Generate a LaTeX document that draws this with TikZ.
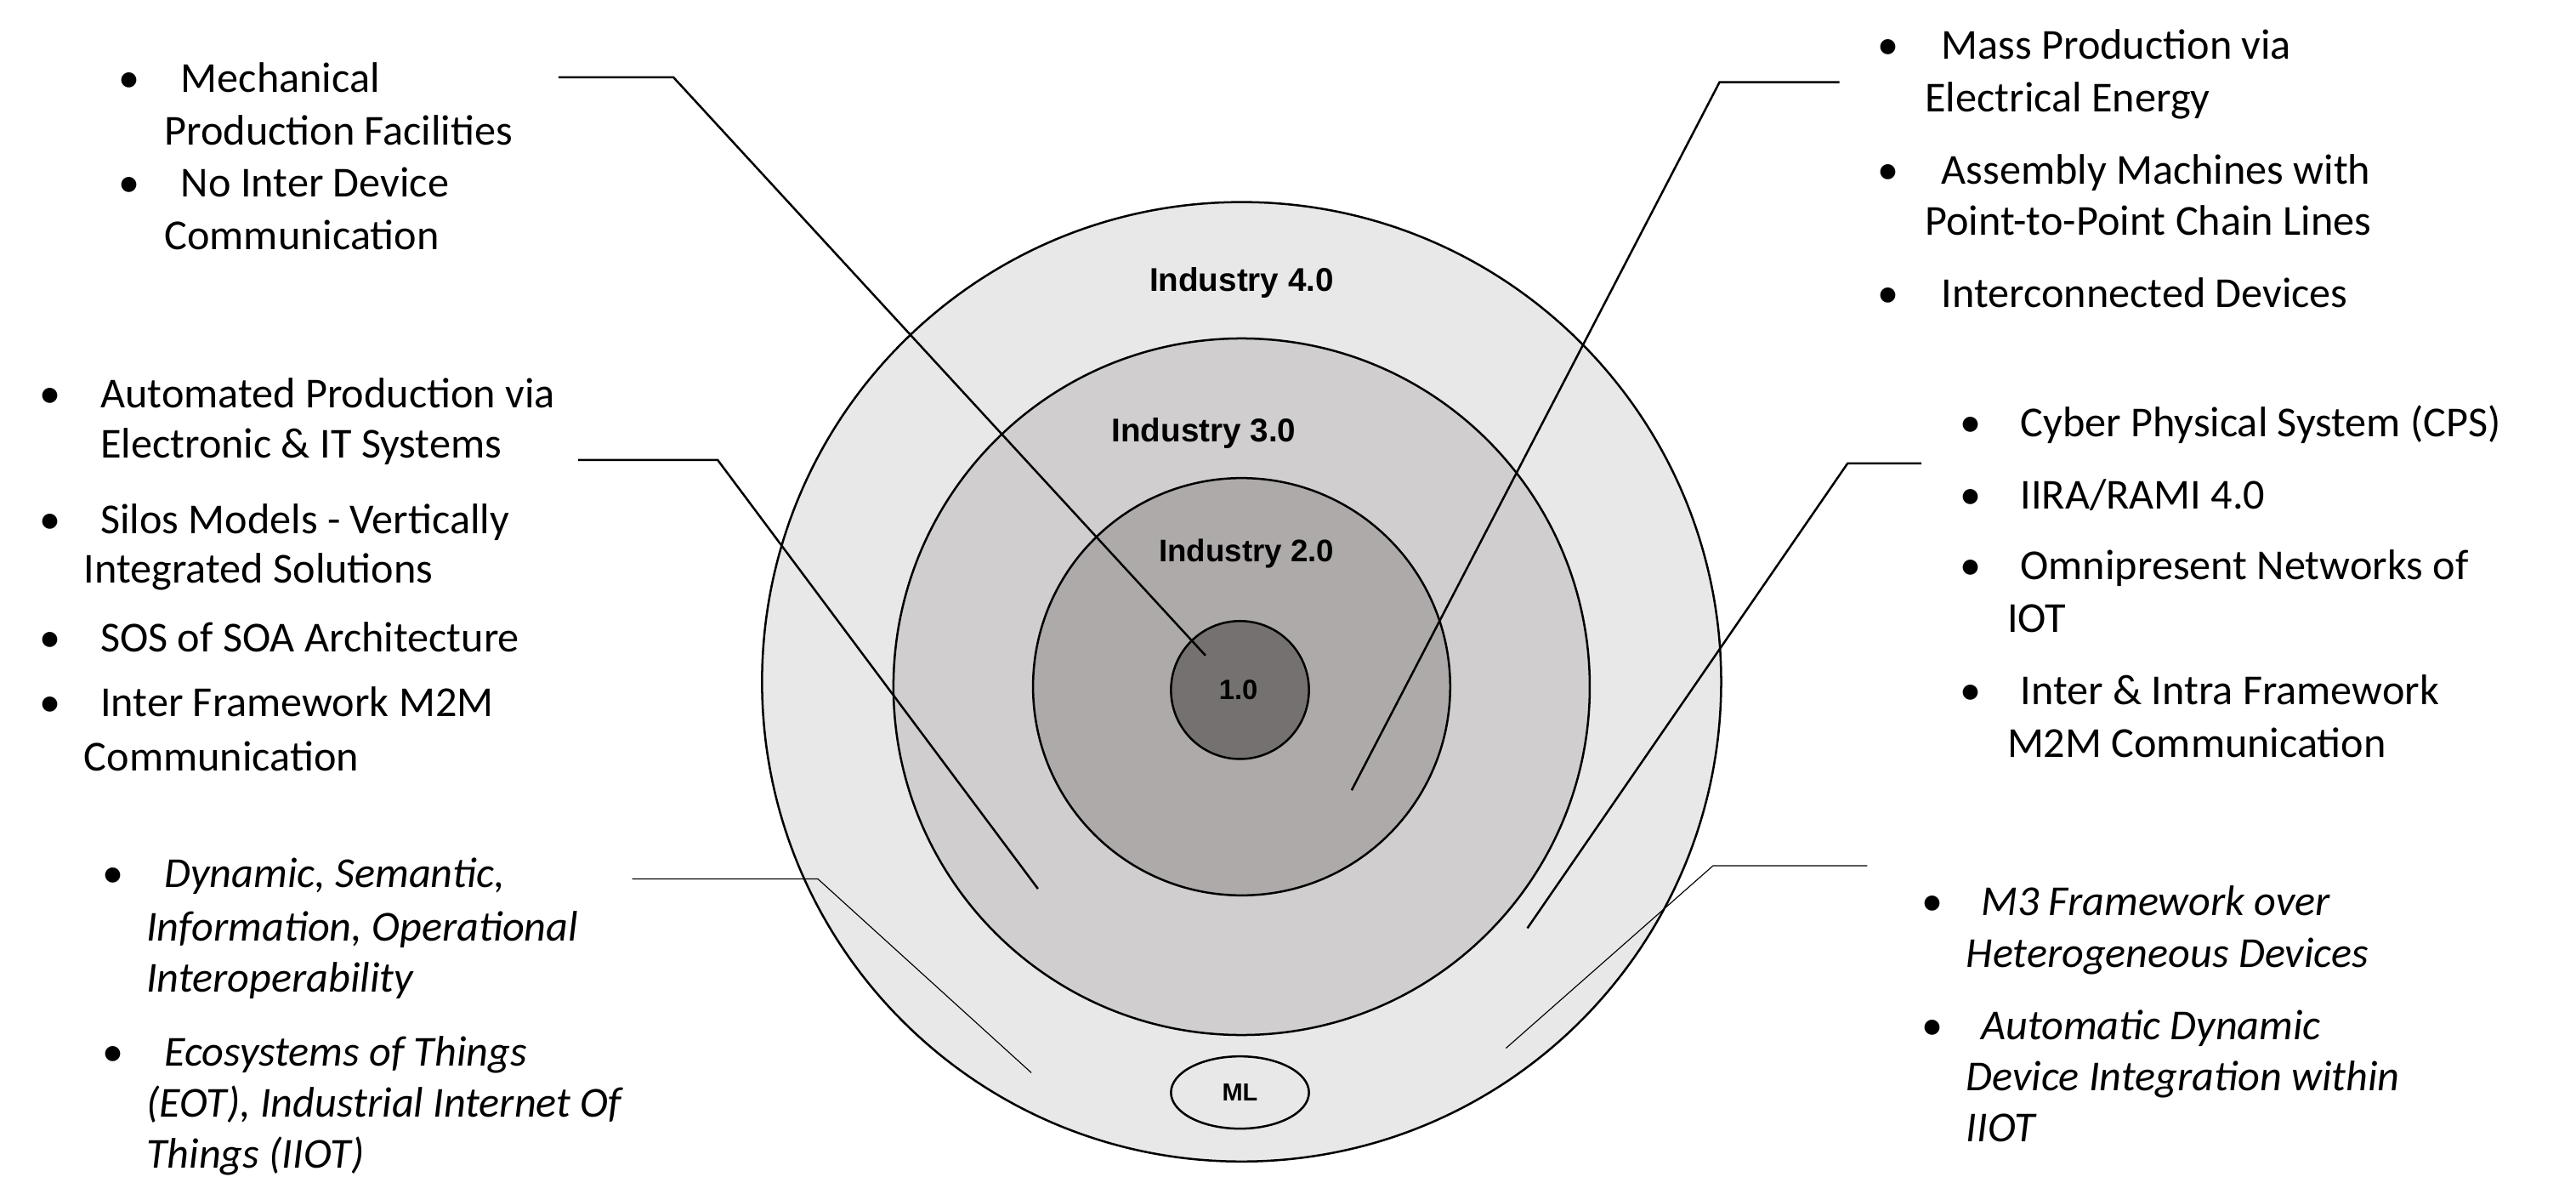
\documentclass[tikz,border=0pt]{standalone}
\usepackage{fontspec}
\usetikzlibrary{shapes.geometric}
\setmainfont{Carlito}
\newfontfamily\arialb{Liberation Sans}
\tikzset{
  ln/.style={anchor=base west, inner sep=0pt, font=\fontsize{26}{30}\selectfont},
  lni/.style={ln, font=\fontsize{26}{30}\selectfont\itshape},
  ring/.style={draw=black, line width=1.3pt, circle, inner sep=0pt},
  lbl/.style={font=\arialb\bfseries\fontsize{20}{24}\selectfont, inner sep=0pt},
  lead/.style={draw=black, line width=1.3pt},
  leadthin/.style={draw=black, line width=0.6pt}
}
\newcommand{\Ln}[5][ln]{\node[#1] (#2) at (#3,#4+9) {#5};}
\begin{document}
\begin{tikzpicture}[x=1pt,y=-1pt]
\useasboundingbox (0,0) rectangle (1568.5,726.7);
% circles
\node[ring, fill={rgb,255:red,232;green,232;blue,232}, minimum size=584] (c4) at (756,415) {};
\node[ring, fill={rgb,255:red,208;green,206;blue,206}, minimum size=424] (c3) at (756,418) {};
\node[ring, fill={rgb,255:red,174;green,170;blue,170}, minimum size=254] (c2) at (756,418) {};
\node[ring, fill={rgb,255:red,118;green,113;blue,113}, minimum size=84] (c1) at (755,420) {};
\node[draw=black, line width=1.3pt, ellipse, minimum width=84, minimum height=44, inner sep=0pt] (ml) at (755,665) {};
\node[lbl] (t4) at (756,172) {Industry 4.0};
\node[lbl] (t3) at (733,264) {Industry 3.0};
\node[lbl, font=\arialb\bfseries\fontsize{19}{22}\selectfont] (t2) at (759,337) {Industry 2.0};
\node[lbl, font=\arialb\bfseries\fontsize{17}{20}\selectfont] (t1) at (754,420) {1.0};
\node[lbl, font=\arialb\bfseries\fontsize{15}{18}\selectfont] (tml) at (755,665) {ML};
% leader coordinates
\coordinate (a1) at (340,47); \coordinate (a2) at (410,47); \coordinate (a3) at (734,399);
\coordinate (b1) at (1120,50); \coordinate (b2) at (1047,50); \coordinate (b3) at (823,481);
\coordinate (d1) at (352,280); \coordinate (d2) at (437,280); \coordinate (d3) at (632,541);
\coordinate (e1) at (1170,282); \coordinate (e2) at (1125,282); \coordinate (e3) at (930,565);
\coordinate (f1) at (385,535); \coordinate (f2) at (498,535); \coordinate (f3) at (628,653);
\coordinate (g1) at (1137,527); \coordinate (g2) at (1043,527); \coordinate (g3) at (917,638);
\draw[lead] (a1) -- (a2) -- (a3);
\draw[lead] (b1) -- (b2) -- (b3);
\draw[lead] (d1) -- (d2) -- (d3);
\draw[lead] (e1) -- (e2) -- (e3);
\draw[leadthin] (f1) -- (f2) -- (f3);
\draw[leadthin] (g1) -- (g2) -- (g3);
% top-left
\Ln{tlb1}{72}{47}{•}\Ln{tl1}{110}{47}{Mechanical}
\Ln{tl2}{100}{79}{Production Facilities}
\Ln{tlb2}{72}{111}{•}\Ln{tl3}{110}{111}{No Inter Device}
\Ln{tl4}{100}{143}{Communication}
% top-right
\Ln{trb1}{1143}{27}{•}\Ln{tr1}{1182}{27}{Mass Production via}
\Ln{tr2}{1172}{59}{Electrical Energy}
\Ln{trb2}{1143}{103}{•}\Ln{tr3}{1182}{103}{Assembly Machines with}
\Ln{tr4}{1172}{134}{Point-to-Point Chain Lines}
\Ln{trb3}{1143}{178}{•}\Ln{tr5}{1182}{178}{Interconnected Devices}
% middle-left
\Ln{mlb1}{24}{239}{•}\Ln{ml1}{61}{239}{Automated Production via}
\Ln{ml2}{61}{270}{Electronic \& IT Systems}
\Ln{mlb2}{24}{316}{•}\Ln{ml3}{61}{316}{Silos Models - Vertically}
\Ln{ml4}{51}{346}{Integrated Solutions}
\Ln{mlb3}{24}{388}{•}\Ln{ml5}{61}{388}{SOS of SOA Architecture}
\Ln{mlb4}{24}{427}{•}\Ln{ml6}{61}{427}{Inter Framework M2M}
\Ln{ml7}{51}{460}{Communication}
% middle-right
\Ln{mrb1}{1193}{257}{•}\Ln{mr1}{1230}{257}{Cyber Physical System (CPS)}
\Ln{mrb2}{1193}{301}{•}\Ln{mr2}{1230}{301}{IIRA/RAMI 4.0}
\Ln{mrb3}{1193}{344}{•}\Ln{mr3}{1230}{344}{Omnipresent Networks of}
\Ln{mr4}{1222}{376}{IOT}
\Ln{mrb4}{1193}{420}{•}\Ln{mr5}{1230}{420}{Inter \& Intra Framework}
\Ln{mr6}{1222}{452}{M2M Communication}
% bottom-left
\Ln{blb1}{62}{531}{•}\Ln[lni]{bl1}{100}{531}{Dynamic, Semantic,}
\Ln[lni]{bl2}{89}{564}{Information, Operational}
\Ln[lni]{bl3}{89}{595}{Interoperability}
\Ln{blb2}{62}{640}{•}\Ln[lni]{bl4}{100}{640}{Ecosystems of Things}
\Ln[lni]{bl5}{89}{671}{(EOT), Industrial Internet Of}
\Ln[lni]{bl6}{89}{702}{Things (IIOT)}
% bottom-right
\Ln{brb1}{1170}{548}{•}\Ln[lni]{br1}{1206}{548}{M3 Framework over}
\Ln[lni]{br2}{1197}{580}{Heterogeneous Devices}
\Ln{brb2}{1170}{624}{•}\Ln[lni]{br3}{1206}{624}{Automatic Dynamic}
\Ln[lni]{br4}{1197}{655}{Device Integration within}
\Ln[lni]{br5}{1197}{686}{IIOT}
\end{tikzpicture}
\end{document}
